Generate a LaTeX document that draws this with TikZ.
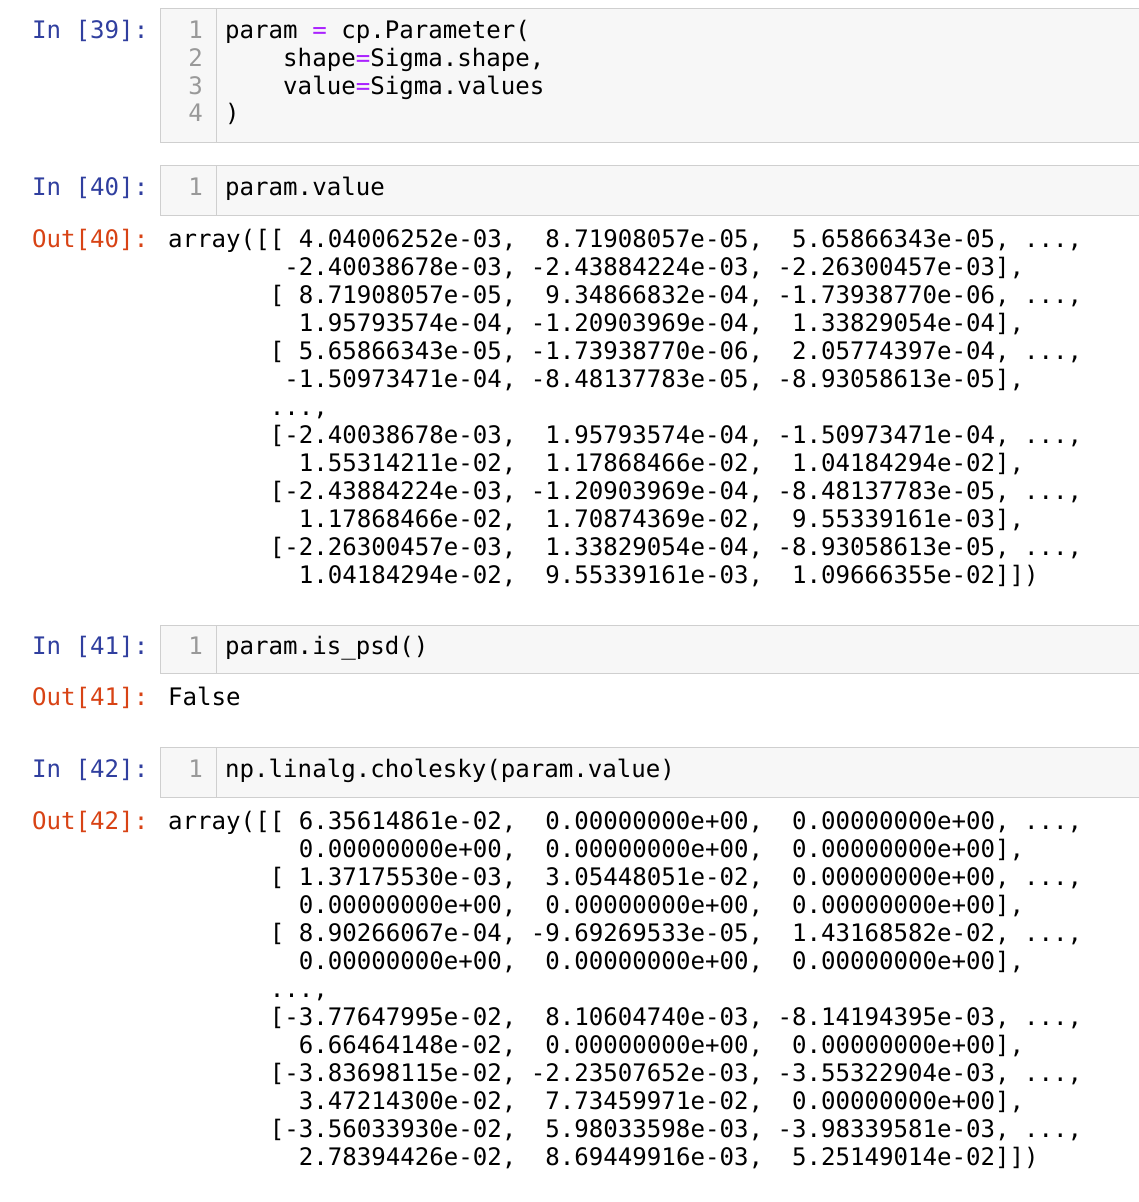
\documentclass[tikz,border=0pt]{standalone}
\usepackage{fontspec}
\setmonofont{DejaVu Sans Mono}
\definecolor{inblue}{HTML}{303F9F}
\definecolor{outred}{HTML}{D84315}
\definecolor{cellbg}{HTML}{F7F7F7}
\definecolor{cellbd}{HTML}{CFCFCF}
\definecolor{lnum}{HTML}{999999}
\definecolor{eqp}{HTML}{AA22FF}
\newcommand{\eqs}{\textcolor{eqp}{=}}
\tikzset{
 x=1pt,y=1pt,
 txt/.style={anchor=west,inner sep=0,font=\ttfamily\fontsize{24.1}{28}\selectfont,text height=17pt,text depth=5pt},
 inp/.style={txt,text=inblue},
 outp/.style={txt,text=outred},
 lno/.style={anchor=east,inner sep=0,font=\ttfamily\fontsize{24.1}{28}\selectfont,text height=17pt,text depth=5pt,text=lnum},
 cell/.style={fill=cellbg,draw=cellbd,line width=1pt},
}
\begin{document}
\begin{tikzpicture}
\useasboundingbox[fill=white] (0,0) rectangle (1138,-1202);
% In 39
\draw[cell] (1140,-8) -- (160,-8) -- (160,-142) -- (1140,-142);
\draw[cellbd,line width=1pt] (216,-8) -- (216,-142);
\node[inp] (p39) at (32,-32) {In~[39]:};
\node[lno] (n1) at (203,-32) {1};
\node[lno] (n2) at (203,-60) {2};
\node[lno] (n3) at (203,-88) {3};
\node[lno] (n4) at (203,-115) {4};
\node[txt] (c1) at (225,-32) {param~\eqs~cp.Parameter(};
\node[txt] (c2) at (225,-60) {~~~~shape\eqs Sigma.shape,};
\node[txt] (c3) at (225,-88) {~~~~value\eqs Sigma.values};
\node[txt] (c4) at (225,-115) {)};
% In 40
\draw[cell] (1140,-165) -- (160,-165) -- (160,-215) -- (1140,-215);
\draw[cellbd,line width=1pt] (216,-165) -- (216,-215);
\node[inp] (p40) at (32,-189) {In~[40]:};
\node[lno] (n40) at (203,-189) {1};
\node[txt] (c40) at (225,-189) {param.value};
\node[outp] (o40) at (32,-241) {Out[40]:};
\node[txt] (ra1) at (168,-241) {array([[~4.04006252e-03,~~8.71908057e-05,~~5.65866343e-05,~...,};
\node[txt] (ra2) at (168,-269) {~~~~~~~~-2.40038678e-03,~-2.43884224e-03,~-2.26300457e-03],};
\node[txt] (ra3) at (168,-297) {~~~~~~~[~8.71908057e-05,~~9.34866832e-04,~-1.73938770e-06,~...,};
\node[txt] (ra4) at (168,-325) {~~~~~~~~~1.95793574e-04,~-1.20903969e-04,~~1.33829054e-04],};
\node[txt] (ra5) at (168,-353) {~~~~~~~[~5.65866343e-05,~-1.73938770e-06,~~2.05774397e-04,~...,};
\node[txt] (ra6) at (168,-381) {~~~~~~~~-1.50973471e-04,~-8.48137783e-05,~-8.93058613e-05],};
\node[txt] (ra7) at (168,-409) {~~~~~~~...,};
\node[txt] (ra8) at (168,-437) {~~~~~~~[-2.40038678e-03,~~1.95793574e-04,~-1.50973471e-04,~...,};
\node[txt] (ra9) at (168,-465) {~~~~~~~~~1.55314211e-02,~~1.17868466e-02,~~1.04184294e-02],};
\node[txt] (ra10) at (168,-493) {~~~~~~~[-2.43884224e-03,~-1.20903969e-04,~-8.48137783e-05,~...,};
\node[txt] (ra11) at (168,-521) {~~~~~~~~~1.17868466e-02,~~1.70874369e-02,~~9.55339161e-03],};
\node[txt] (ra12) at (168,-549) {~~~~~~~[-2.26300457e-03,~~1.33829054e-04,~-8.93058613e-05,~...,};
\node[txt] (ra13) at (168,-577) {~~~~~~~~~1.04184294e-02,~~9.55339161e-03,~~1.09666355e-02]])};
% In 41
\draw[cell] (1140,-625) -- (160,-625) -- (160,-673) -- (1140,-673);
\draw[cellbd,line width=1pt] (216,-625) -- (216,-673);
\node[inp] (p41) at (32,-648) {In~[41]:};
\node[lno] (n41) at (203,-648) {1};
\node[txt] (c41) at (225,-648) {param.is\_psd()};
\node[outp] (o41) at (32,-699) {Out[41]:};
\node[txt] (r41) at (168,-699) {False};
% In 42
\draw[cell] (1140,-747) -- (160,-747) -- (160,-797) -- (1140,-797);
\draw[cellbd,line width=1pt] (216,-747) -- (216,-797);
\node[inp] (p42) at (32,-771) {In~[42]:};
\node[lno] (n42) at (203,-771) {1};
\node[txt] (c42) at (225,-771) {np.linalg.cholesky(param.value)};
\node[outp] (o42) at (32,-823) {Out[42]:};
\node[txt] (rb1) at (168,-823) {array([[~6.35614861e-02,~~0.00000000e+00,~~0.00000000e+00,~...,};
\node[txt] (rb2) at (168,-851) {~~~~~~~~~0.00000000e+00,~~0.00000000e+00,~~0.00000000e+00],};
\node[txt] (rb3) at (168,-879) {~~~~~~~[~1.37175530e-03,~~3.05448051e-02,~~0.00000000e+00,~...,};
\node[txt] (rb4) at (168,-907) {~~~~~~~~~0.00000000e+00,~~0.00000000e+00,~~0.00000000e+00],};
\node[txt] (rb5) at (168,-935) {~~~~~~~[~8.90266067e-04,~-9.69269533e-05,~~1.43168582e-02,~...,};
\node[txt] (rb6) at (168,-963) {~~~~~~~~~0.00000000e+00,~~0.00000000e+00,~~0.00000000e+00],};
\node[txt] (rb7) at (168,-991) {~~~~~~~...,};
\node[txt] (rb8) at (168,-1019) {~~~~~~~[-3.77647995e-02,~~8.10604740e-03,~-8.14194395e-03,~...,};
\node[txt] (rb9) at (168,-1047) {~~~~~~~~~6.66464148e-02,~~0.00000000e+00,~~0.00000000e+00],};
\node[txt] (rb10) at (168,-1075) {~~~~~~~[-3.83698115e-02,~-2.23507652e-03,~-3.55322904e-03,~...,};
\node[txt] (rb11) at (168,-1103) {~~~~~~~~~3.47214300e-02,~~7.73459971e-02,~~0.00000000e+00],};
\node[txt] (rb12) at (168,-1131) {~~~~~~~[-3.56033930e-02,~~5.98033598e-03,~-3.98339581e-03,~...,};
\node[txt] (rb13) at (168,-1159) {~~~~~~~~~2.78394426e-02,~~8.69449916e-03,~~5.25149014e-02]])};
\end{tikzpicture}
\end{document}
